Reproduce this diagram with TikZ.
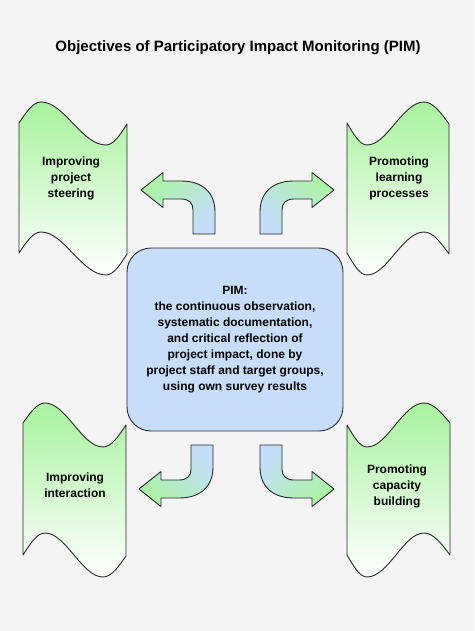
\documentclass[tikz,border=0pt]{standalone}
\usepackage{fontspec}
\setmainfont{Liberation Sans}
\definecolor{bgcol}{RGB}{244,244,244}
\definecolor{flaggreen}{RGB}{168,243,158}
\definecolor{pimblue}{RGB}{198,222,250}
\definecolor{arrblue}{RGB}{196,222,250}
\definecolor{arrgreen}{RGB}{172,244,164}
\definecolor{linegray}{RGB}{40,40,40}
\begin{document}
\begin{tikzpicture}[x=1pt,y=-1pt,line join=round,
  outl/.style={draw=linegray,line width=0.9pt},
  flag/.style={outl,top color=flaggreen,bottom color=white},
  lbl/.style={font=\bfseries\fontsize{12}{16}\selectfont,align=center,text=black},
  pics/bent/.style={code={
    \path[outl,#1] (0,0) -- (22,-17.5) -- (22,-9) -- (40,-9)
      .. controls (62,-9) and (74,3) .. (74,22) -- (74,44) -- (52,44) -- (52,20)
      .. controls (52,13) and (48,9) .. (40,9) -- (22,9) -- (22,17.5) -- cycle;
  }}]
\fill[bgcol] (0,0) rectangle (474,631);
\useasboundingbox (0,0) rectangle (474,631);

\node[font=\bfseries\fontsize{15}{18}\selectfont] (title) at (238,48)
  {Objectives of Participatory Impact Monitoring (PIM)};

% flags
\path[flag] (19,123) sin (41,102) cos (73,123.5) sin (106,145) cos (127,124)
  -- (127,254) sin (106,275) cos (73,253.5) sin (41,232) cos (19,253) -- cycle;
\path[flag] (23,423) sin (45,403) cos (74,425) sin (103,447) cos (126,425)
  -- (126,556) sin (103,577) cos (74,555) sin (45,533) cos (23,555) -- cycle;
\path[flag] (347,123) sin (367,145) cos (395,123.5) sin (424,102) cos (449,124)
  -- (449,254) sin (424,232) cos (395,253.5) sin (367,275) cos (347,253) -- cycle;
\path[flag] (347,425) sin (367,447) cos (396,424) sin (424,403) cos (450,423)
  -- (450,555) sin (424,533) cos (396,555) sin (367,577) cos (347,555) -- cycle;

\node[lbl] (steer) at (71,178) {Improving\\project\\steering};
\node[lbl] (learn) at (399,178) {Promoting\\learning\\processes};
\node[lbl] (inter) at (75,485) {Improving\\interaction};
\node[lbl] (capac) at (397,486) {Promoting\\capacity\\building};

% central box
\node[outl,fill=pimblue,rounded corners=24pt,minimum width=216pt,minimum height=183pt,lbl]
  (pim) at (235,339.5)
  {PIM:\\the continuous observation,\\systematic documentation,\\and critical reflection of\\project impact, done by\\project staff and target groups,\\using own survey results};

% bent arrows
\pic at (141,190) {bent={top color=arrgreen,bottom color=arrblue,shading angle=45}};
\pic[xscale=-1] at (334,190) {bent={top color=arrgreen,bottom color=arrblue,shading angle=-45}};
\pic[yscale=-1] at (139,489) {bent={top color=arrblue,bottom color=arrgreen,shading angle=-45}};
\pic[xscale=-1,yscale=-1] at (334,489) {bent={top color=arrblue,bottom color=arrgreen,shading angle=45}};
\end{tikzpicture}
\end{document}
